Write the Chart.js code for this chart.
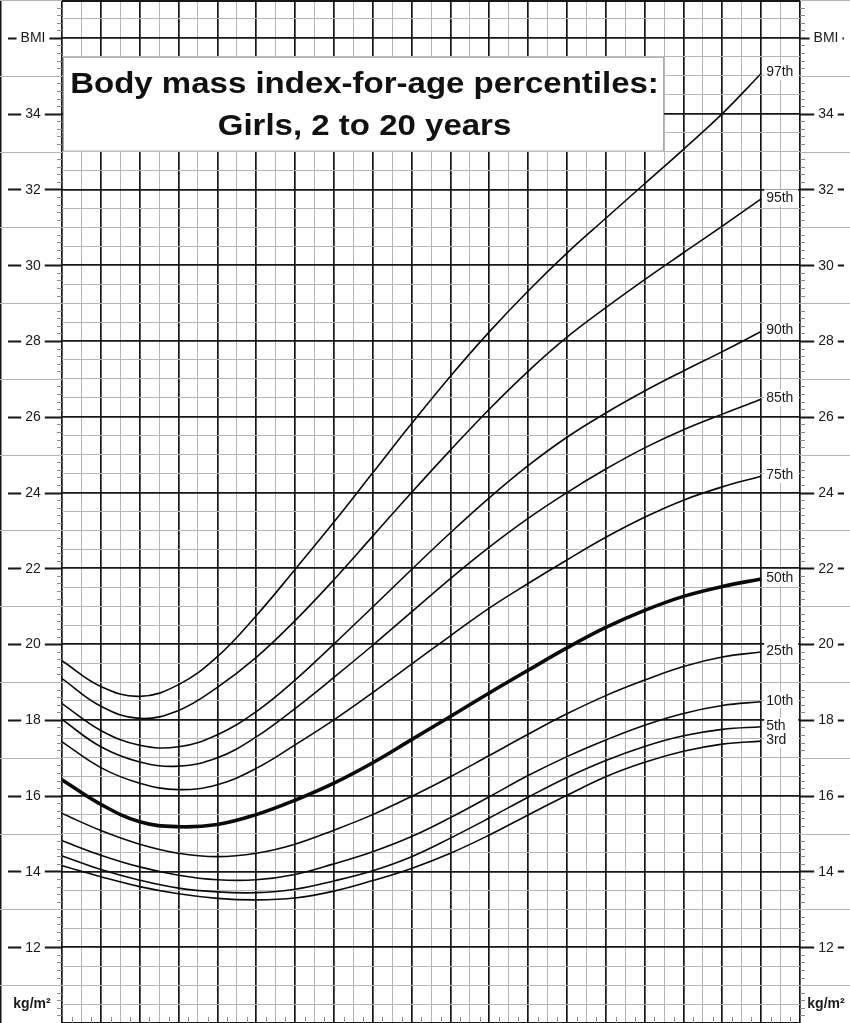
<!DOCTYPE html>
<html>
<head>
<meta charset="utf-8">
<script src="https://cdn.jsdelivr.net/npm/chart.js@4.4.1/dist/chart.umd.min.js"></script>
<style>
html,body{margin:0;padding:0;background:#fff;overflow:hidden}
#wrap{position:relative;width:850px;height:1023px}
</style>
</head>
<body>
<div id="wrap"><canvas id="c" width="850" height="1023"></canvas></div>
<script>
// ---- data ----
const ages = [2,3,4,5,6,7,8,9,10,11,12,13,14,15,16,17,18,19,20];
const p97 = [19.56,18.88,18.62,18.93,19.67,20.75,21.97,23.22,24.52,25.82,27.07,28.24,29.32,30.32,31.24,32.15,33.06,34.00,35.06];
const p95 = [19.09,18.36,18.04,18.25,18.86,19.65,20.62,21.70,22.85,24.00,25.12,26.20,27.20,28.10,28.88,29.62,30.33,31.03,31.75];
const p90 = [18.43,17.72,17.33,17.29,17.61,18.22,19.05,20.00,20.98,21.97,22.94,23.86,24.71,25.46,26.10,26.68,27.21,27.72,28.25];
const p85 = [18.01,17.29,16.89,16.78,17.00,17.55,18.30,19.12,19.97,20.85,21.73,22.56,23.32,24.00,24.62,25.18,25.66,26.07,26.46];
const p75 = [17.42,16.74,16.33,16.16,16.29,16.72,17.34,18.00,18.72,19.47,20.22,20.95,21.60,22.22,22.82,23.35,23.80,24.15,24.43];
const p50 = [16.42,15.77,15.31,15.18,15.24,15.50,15.88,16.33,16.87,17.48,18.09,18.71,19.31,19.90,20.44,20.89,21.26,21.52,21.72];
const p25 = [15.53,15.08,14.72,14.48,14.39,14.48,14.72,15.09,15.50,15.98,16.50,17.06,17.62,18.16,18.64,19.05,19.41,19.66,19.79];
const p10 = [14.81,14.43,14.12,13.90,13.78,13.78,13.92,14.20,14.52,14.92,15.42,15.97,16.53,17.03,17.47,17.86,18.17,18.38,18.48];
const p5  = [14.41,14.05,13.77,13.56,13.46,13.44,13.53,13.75,14.02,14.39,14.88,15.41,15.96,16.48,16.93,17.30,17.58,17.75,17.82];
const p3  = [14.15,13.86,13.60,13.41,13.29,13.25,13.30,13.48,13.76,14.08,14.48,14.96,15.49,16.01,16.50,16.88,17.17,17.36,17.44];

const percentileLabels = ['3rd','5th','10th','25th','50th','75th','85th','90th','95th','97th'];
const percentileSeries = [p3,p5,p10,p25,p50,p75,p85,p90,p95,p97];
const yTickLabels = [12,14,16,18,20,22,24,26,28,30,32,34];
const yTopLabel = {value:36, text:'BMI'};
const yUnitLabel = {value:10.5, text:'kg/m\u00B2'};
const titleLines = ['Body mass index-for-age percentiles:', 'Girls, 2 to 20 years'];

// ---- styles ----
const DARK = '#161616';
const LIGHT = '#b5b5b5';
const FONT = '"Liberation Sans", Arial, Helvetica, sans-serif';
const near = (v, s) => Math.abs(v / s - Math.round(v / s)) < 1e-6;

const datasets = percentileSeries.map((arr, i) => ({
  label: percentileLabels[i],
  data: ages.map((a, j) => ({x: a, y: arr[j]})),
  borderColor: '#0a0a0a',
  borderWidth: percentileLabels[i] === '50th' ? 3.6 : 1.6,
  pointRadius: 0,
  fill: false,
  tension: 0.4,
  order: percentileLabels[i] === '50th' ? 0 : 1
}));

const decor = {
  id: 'decor',
  beforeDatasetsDraw(chart) {
    const {ctx, chartArea: a, scales: {x, y}} = chart;
    ctx.save();
    // title box
    const bx0 = x.getPixelForValue(2) + 1, bx1 = x.getPixelForValue(17.5);
    const by0 = y.getPixelForValue(35.5), by1 = y.getPixelForValue(33);
    ctx.fillStyle = '#fff';
    ctx.fillRect(bx0, by0, bx1 - bx0, by1 - by0);
    ctx.strokeStyle = '#a8a8a8';
    ctx.lineWidth = 1;
    ctx.strokeRect(bx0 + 0.5, by0 + 0.5, bx1 - bx0 - 1, by1 - by0 - 1);
    ctx.fillStyle = '#111';
    ctx.font = 'bold 30px ' + FONT;
    ctx.textAlign = 'center';
    ctx.textBaseline = 'alphabetic';
    const cx = (bx0 + bx1) / 2 + 1;
    [36, 78].forEach((dy, i) => {
      ctx.save();
      ctx.translate(cx, by0 + dy);
      ctx.scale(1.1, 1);
      ctx.fillText(titleLines[i], 0, 0);
      ctx.restore();
    });

    // top border
    ctx.strokeStyle = DARK;
    ctx.lineWidth = 2;
    ctx.beginPath(); ctx.moveTo(a.left, a.top + 1); ctx.lineTo(a.right, a.top + 1); ctx.stroke();
    // left image edge
    ctx.lineWidth = 1.5;
    ctx.beginPath(); ctx.moveTo(0.75, 0); ctx.lineTo(0.75, chart.height); ctx.stroke();

    // margins: odd integer gray lines
    ctx.strokeStyle = LIGHT;
    ctx.lineWidth = 1;
    for (let v = 11; v <= 37; v += 2) {
      const py = Math.round(y.getPixelForValue(v)) + 0.5;
      ctx.beginPath(); ctx.moveTo(0, py); ctx.lineTo(a.left, py); ctx.stroke();
      ctx.beginPath(); ctx.moveTo(a.right, py); ctx.lineTo(chart.width, py); ctx.stroke();
    }
    // minor ticks every 0.2
    ctx.strokeStyle = '#8a8a8a';
    for (let k = 50; k <= 185; k++) {
      const v = k / 5;
      if (near(v, 1)) continue;
      const py = Math.round(y.getPixelForValue(v)) + 0.5;
      ctx.beginPath(); ctx.moveTo(a.left - 5, py); ctx.lineTo(a.left, py); ctx.stroke();
      ctx.beginPath(); ctx.moveTo(a.right, py); ctx.lineTo(a.right + 5, py); ctx.stroke();
    }
    // bottom quarter-year ticks
    for (let k = 8; k <= 84; k++) {
      const v = k / 4;
      if (near(v, 0.5)) continue;
      const px = Math.round(x.getPixelForValue(v)) + 0.5;
      ctx.beginPath(); ctx.moveTo(px, a.bottom - 6); ctx.lineTo(px, a.bottom); ctx.stroke();
    }

    // axis labels with dashes
    ctx.font = '14px ' + FONT;
    ctx.fillStyle = '#1a1a1a';
    ctx.textAlign = 'center';
    ctx.textBaseline = 'middle';
    const lc = 33, rc = 826;
    const items = yTickLabels.map(v => ({value: v, text: String(v)})).concat([yTopLabel]);
    items.forEach(it => {
      const py = y.getPixelForValue(it.value);
      const w = ctx.measureText(it.text).width;
      ctx.fillText(it.text, lc, py + 0.5);
      ctx.fillText(it.text, rc, py + 0.5);
      ctx.strokeStyle = DARK;
      ctx.lineWidth = 1.8;
      const yy = Math.round(py) + 0.5;
      ctx.beginPath();
      ctx.moveTo(8, yy); ctx.lineTo(lc - w / 2 - 4, yy);
      ctx.moveTo(lc + w / 2 + 4, yy); ctx.lineTo(a.left, yy);
      ctx.moveTo(a.right, yy); ctx.lineTo(rc - w / 2 - 4, yy);
      ctx.moveTo(rc + w / 2 + 4, yy); ctx.lineTo(chart.width - 6, yy);
      ctx.stroke();
    });
    ctx.font = 'bold 14px ' + FONT;
    const uy = y.getPixelForValue(yUnitLabel.value);
    ctx.fillText(yUnitLabel.text, 32, uy);
    ctx.fillText(yUnitLabel.text, 826, uy);
    ctx.restore();
  },
  afterDatasetsDraw(chart) {
    const {ctx} = chart;
    ctx.save();
    const pts = chart.data.datasets.map((ds, i) => {
      const meta = chart.getDatasetMeta(i);
      const p = meta.data[meta.data.length - 1];
      return {x: p.x, y: p.y - 1.5, text: ds.label};
    });
    ctx.fillStyle = '#fff';
    pts.forEach(p => ctx.fillRect(p.x + 3, p.y - 8, 34, 16));
    ctx.fillStyle = '#1a1a1a';
    ctx.font = '14px ' + FONT;
    ctx.textAlign = 'left';
    ctx.textBaseline = 'middle';
    pts.forEach(p => ctx.fillText(p.text, p.x + 5, p.y + 0.5));
    ctx.restore();
  }
};

new Chart(document.getElementById('c'), {
  type: 'line',
  data: {datasets},
  plugins: [decor],
  options: {
    responsive: false,
    animation: false,
    devicePixelRatio: 1,
    layout: {padding: 0},
    plugins: {legend: {display: false}, tooltip: {enabled: false}, title: {display: false}},
    scales: {
      x: {
        type: 'linear', min: 2, max: 21, position: 'bottom',
        ticks: {display: false, stepSize: 0.5},
        grid: {
          drawTicks: false,
          color: c => near(c.tick.value, 1) ? DARK : LIGHT,
          lineWidth: c => near(c.tick.value, 1) ? 1.7 : 1
        },
        border: {display: false},
        afterFit(s) { s.height = 0; }
      },
      y: {
        type: 'linear', min: 10, max: 37, position: 'left',
        ticks: {display: false, stepSize: 0.5},
        grid: {
          drawTicks: false,
          color: c => near(c.tick.value, 2) ? DARK : LIGHT,
          lineWidth: c => near(c.tick.value, 2) ? 1.7 : 1
        },
        border: {display: false},
        afterFit(s) { s.width = 62; }
      },
      y2: {
        type: 'linear', min: 10, max: 37, position: 'right',
        ticks: {display: false},
        grid: {display: false},
        border: {display: false},
        afterFit(s) { s.width = 50; }
      }
    }
  }
});
</script>
</body>
</html>
